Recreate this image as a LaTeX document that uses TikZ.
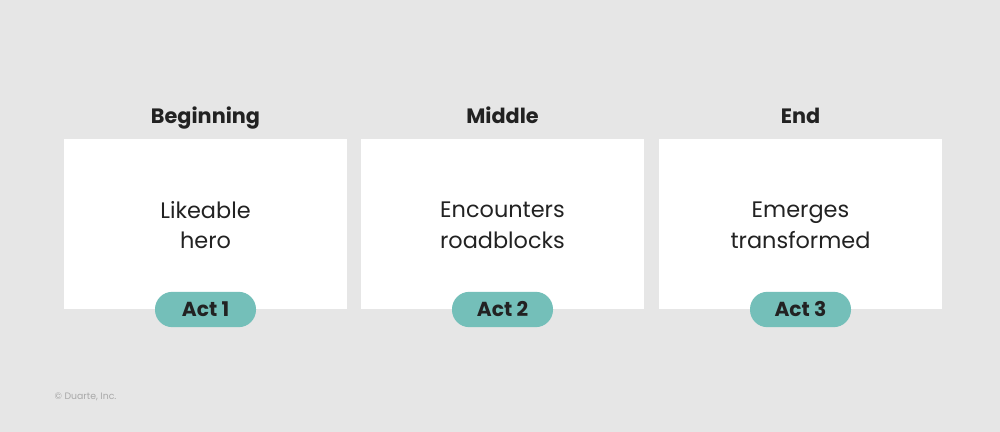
\documentclass[tikz,border=0pt]{standalone}
\usepackage{fontspec}
\setmainfont{Poppins}
\definecolor{bg}{HTML}{E6E6E6}
\definecolor{teal}{HTML}{74BFB9}
\definecolor{ink}{HTML}{222222}
\definecolor{copy}{HTML}{A8A8A8}
\begin{document}
\begin{tikzpicture}[x=0.75pt,y=-0.75pt,
  card/.style={fill=white,draw=none,minimum width=212.25pt,minimum height=127.5pt,inner sep=0pt},
  head/.style={font=\fontsize{15.6}{19}\selectfont\bfseries,text=ink,anchor=base},
  body/.style={font=\fontsize{16.8}{23}\selectfont,text=ink,align=center},
  pill/.style={fill=teal,rounded corners=13pt,minimum width=75.75pt,minimum height=26.5pt,inner sep=0pt,font=\fontsize{15.2}{18}\selectfont\bfseries,text=ink}]
\fill[bg] (0,0) rectangle (1000,432);
\useasboundingbox (0,0) rectangle (1000,432);
\foreach \i/\cx/\h/\b/\a in {1/205.5/Beginning/{Likeable\\hero}/Act 1,2/502.5/Middle/{Encounters\\roadblocks}/Act 2,3/800.5/End/{Emerges\\transformed}/Act 3}{
  \node[card] (card\i) at (\cx,224) {};
  \node[head] (head\i) at (\cx,123.5) {\h};
  \node[body] (body\i) at (\cx,225) {\b};
  \node[pill] (pill\i) at (\cx,309.5) {\a};
}
\node[anchor=west,font=\fontsize{7}{9}\selectfont,text=copy] (copy) at (50,397) {© Duarte, Inc.};
\end{tikzpicture}
\end{document}
